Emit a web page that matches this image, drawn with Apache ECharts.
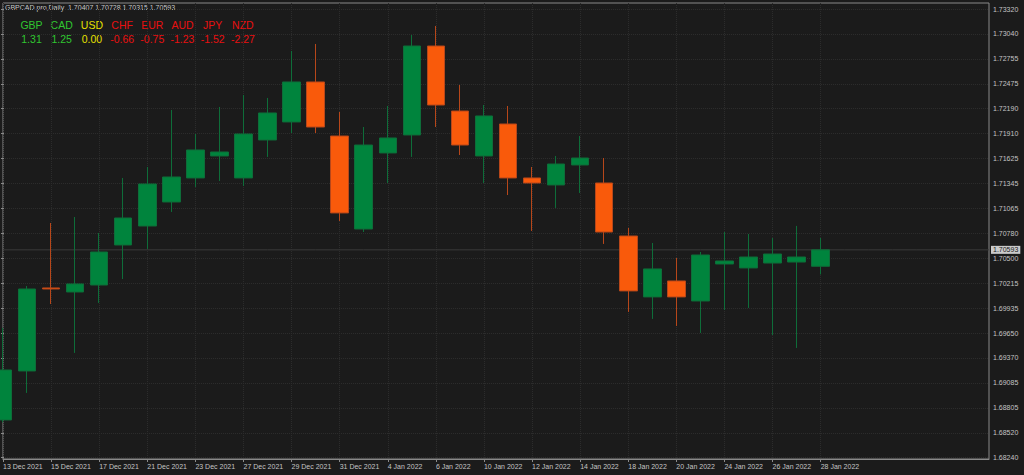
<!DOCTYPE html>
<html><head><meta charset="utf-8">
<script src="https://cdn.jsdelivr.net/npm/echarts@6/dist/echarts.min.js"></script>
<style>html,body{margin:0;padding:0;background:#1b1b1b}#c{width:1024px;height:475px}</style>
</head><body><div id="c"></div>
<script>
const dates = ['13 Dec 2021','14 Dec 2021','15 Dec 2021','16 Dec 2021','17 Dec 2021','20 Dec 2021','21 Dec 2021','22 Dec 2021','23 Dec 2021','24 Dec 2021',
  '27 Dec 2021','28 Dec 2021','29 Dec 2021','30 Dec 2021','31 Dec 2021','3 Jan 2022','4 Jan 2022','5 Jan 2022','6 Jan 2022','7 Jan 2022',
  '10 Jan 2022','11 Jan 2022','12 Jan 2022','13 Jan 2022','14 Jan 2022','17 Jan 2022','18 Jan 2022','19 Jan 2022','20 Jan 2022','21 Jan 2022',
  '24 Jan 2022','25 Jan 2022','26 Jan 2022','27 Jan 2022','28 Jan 2022'];
const opens  = [1.68667,1.69222,1.70162,1.70116,1.70195,1.70648,1.70863,1.71135,1.71407,1.71656,
  1.71407,1.71837,1.72041,1.72494,1.71882,1.70829,1.71690,1.71894,1.72901,1.72165,
  1.71656,1.72018,1.71407,1.71328,1.71554,1.71350,1.70750,1.70060,1.70241,1.70014,
  1.70433,1.70388,1.70444,1.70455,1.70407];
const highs  = [1.69709,1.70184,1.70897,1.70965,1.70784,1.71407,1.71531,1.72177,1.71905,1.72211,
  1.72346,1.72313,1.72845,1.72924,1.72154,1.71984,1.72222,1.73026,1.73128,1.72460,
  1.72233,1.72222,1.71531,1.71656,1.71882,1.71633,1.70841,1.70671,1.70501,1.70569,
  1.70795,1.70773,1.70727,1.70864,1.70728];
const lows   = [1.68640,1.68973,1.69980,1.69426,1.69992,1.70263,1.70603,1.71022,1.71305,1.71373,
  1.71316,1.71645,1.71916,1.71916,1.70920,1.70795,1.71350,1.71645,1.71984,1.71667,
  1.71350,1.71214,1.70807,1.71067,1.71237,1.70660,1.69890,1.69811,1.69731,1.69652,
  1.69912,1.69935,1.69629,1.69482,1.70315];
const closes = [1.69233,1.70150,1.70150,1.70207,1.70569,1.70954,1.71339,1.71418,1.71724,1.71701,
  1.71905,1.72143,1.72494,1.71984,1.71011,1.71780,1.71860,1.72901,1.72233,1.71780,
  1.72109,1.71407,1.71350,1.71565,1.71633,1.70795,1.70128,1.70377,1.70060,1.70535,
  1.70467,1.70512,1.70546,1.70512,1.70593];
const priceTicks = ['1.68240','1.68520','1.68805','1.69085','1.69370','1.69650','1.69935','1.70215','1.70500','1.70780',
  '1.71065','1.71345','1.71625','1.71910','1.72190','1.72475','1.72755','1.73040','1.73320'];
const currencies = ['GBP','CAD','USD','CHF','EUR','AUD','JPY','NZD'];
const strengths = [1.31,1.25,0.00,-0.66,-0.75,-1.23,-1.52,-2.27];
const headerText = 'GBPCAD.pro,Daily  1.70407 1.70728 1.70315 1.70593';
const lastPrice = 1.70593;
const shiftBars = 7;

const cats = dates.concat(new Array(shiftBars).fill(''));
const showIdx = (i, v) => v !== '' && i % 2 === 0;
const strengthColor = v => v > 0 ? '#30c630' : (v === 0 ? '#e6e000' : '#e81010');

const graphics = [{
  type: 'text', left: 5, top: 4,
  style: { text: headerText, fill: '#c8c8c8', font: '7px "Liberation Sans"' }
}];
currencies.forEach((c, k) => {
  graphics.push({ type: 'text', x: 31.5 + 30.2 * k, y: 25,
    style: { text: c, fill: strengthColor(strengths[k]), font: '10.5px "Liberation Sans"',
      textAlign: 'center', textVerticalAlign: 'middle', align: 'center', verticalAlign: 'middle' } });
  graphics.push({ type: 'text', x: 31.5 + 30.2 * k, y: 38.5,
    style: { text: strengths[k].toFixed(2), fill: strengthColor(strengths[k]), font: '10.5px "Liberation Sans"',
      textAlign: 'center', textVerticalAlign: 'middle', align: 'center', verticalAlign: 'middle' } });
});

const chart = echarts.init(document.getElementById('c'), null, { renderer: 'svg' });
chart.setOption({
  backgroundColor: '#1b1b1b',
  animation: false,
  textStyle: { fontFamily: 'Liberation Sans' },
  graphic: graphics,
  grid: [
    { left: 1, right: 35, top: 3, bottom: 16, show: true, borderColor: '#8a8a8a', borderWidth: 1, backgroundColor: 'transparent' },
    { left: 1, right: 35, top: 9, bottom: 17.3 }
  ],
  xAxis: [
    { type: 'category', gridIndex: 0, data: cats, boundaryGap: false,
      axisLine: { show: true, lineStyle: { color: '#8a8a8a' } },
      axisTick: { show: true, interval: showIdx, length: 3, lineStyle: { color: '#8a8a8a' } },
      axisLabel: { interval: showIdx, align: 'left', color: '#c4c4c4', fontSize: 7, margin: 4 },
      splitLine: { show: true, interval: showIdx, lineStyle: { color: '#2c2c2c', type: 'dotted' } } },
    { type: 'value', gridIndex: 1, min: 0, max: 1, show: false }
  ],
  yAxis: [
    { type: 'value', gridIndex: 0, position: 'right', min: 1.68225, max: 1.73388,
      axisLine: { show: false }, axisTick: { show: false }, axisLabel: { show: false }, splitLine: { show: false } },
    { type: 'category', gridIndex: 1, position: 'right', data: priceTicks, boundaryGap: false,
      axisLine: { show: false },
      axisTick: { show: true, length: 3, lineStyle: { color: '#8a8a8a' } },
      axisLabel: { interval: 0, color: '#c4c4c4', fontSize: 7, margin: 4 },
      splitLine: { show: true, interval: 0, lineStyle: { color: '#2c2c2c', type: 'dotted' } } }
  ],
  series: [{
    type: 'line', xAxisIndex: 0, yAxisIndex: 0, z: 1, silent: true,
    data: cats.map(() => lastPrice), symbol: 'none',
    lineStyle: { color: '#3b3b3b', type: 'solid', width: 1 },
    endLabel: { show: true, formatter: lastPrice.toFixed(5), backgroundColor: '#cacaca', color: '#202020',
      fontSize: 7, padding: [1, 2, 0, 2], distance: 2 }
  }, {
    type: 'candlestick', xAxisIndex: 0, yAxisIndex: 0, z: 3,
    data: dates.map((d, i) => [opens[i], closes[i], lows[i], highs[i]]),
    barWidth: 18,
    itemStyle: { color: '#00843d', color0: '#f95a0b', borderColor: '#0e6d39', borderColor0: '#b7471a', borderWidth: 1 }
  }]
});
</script></body></html>
